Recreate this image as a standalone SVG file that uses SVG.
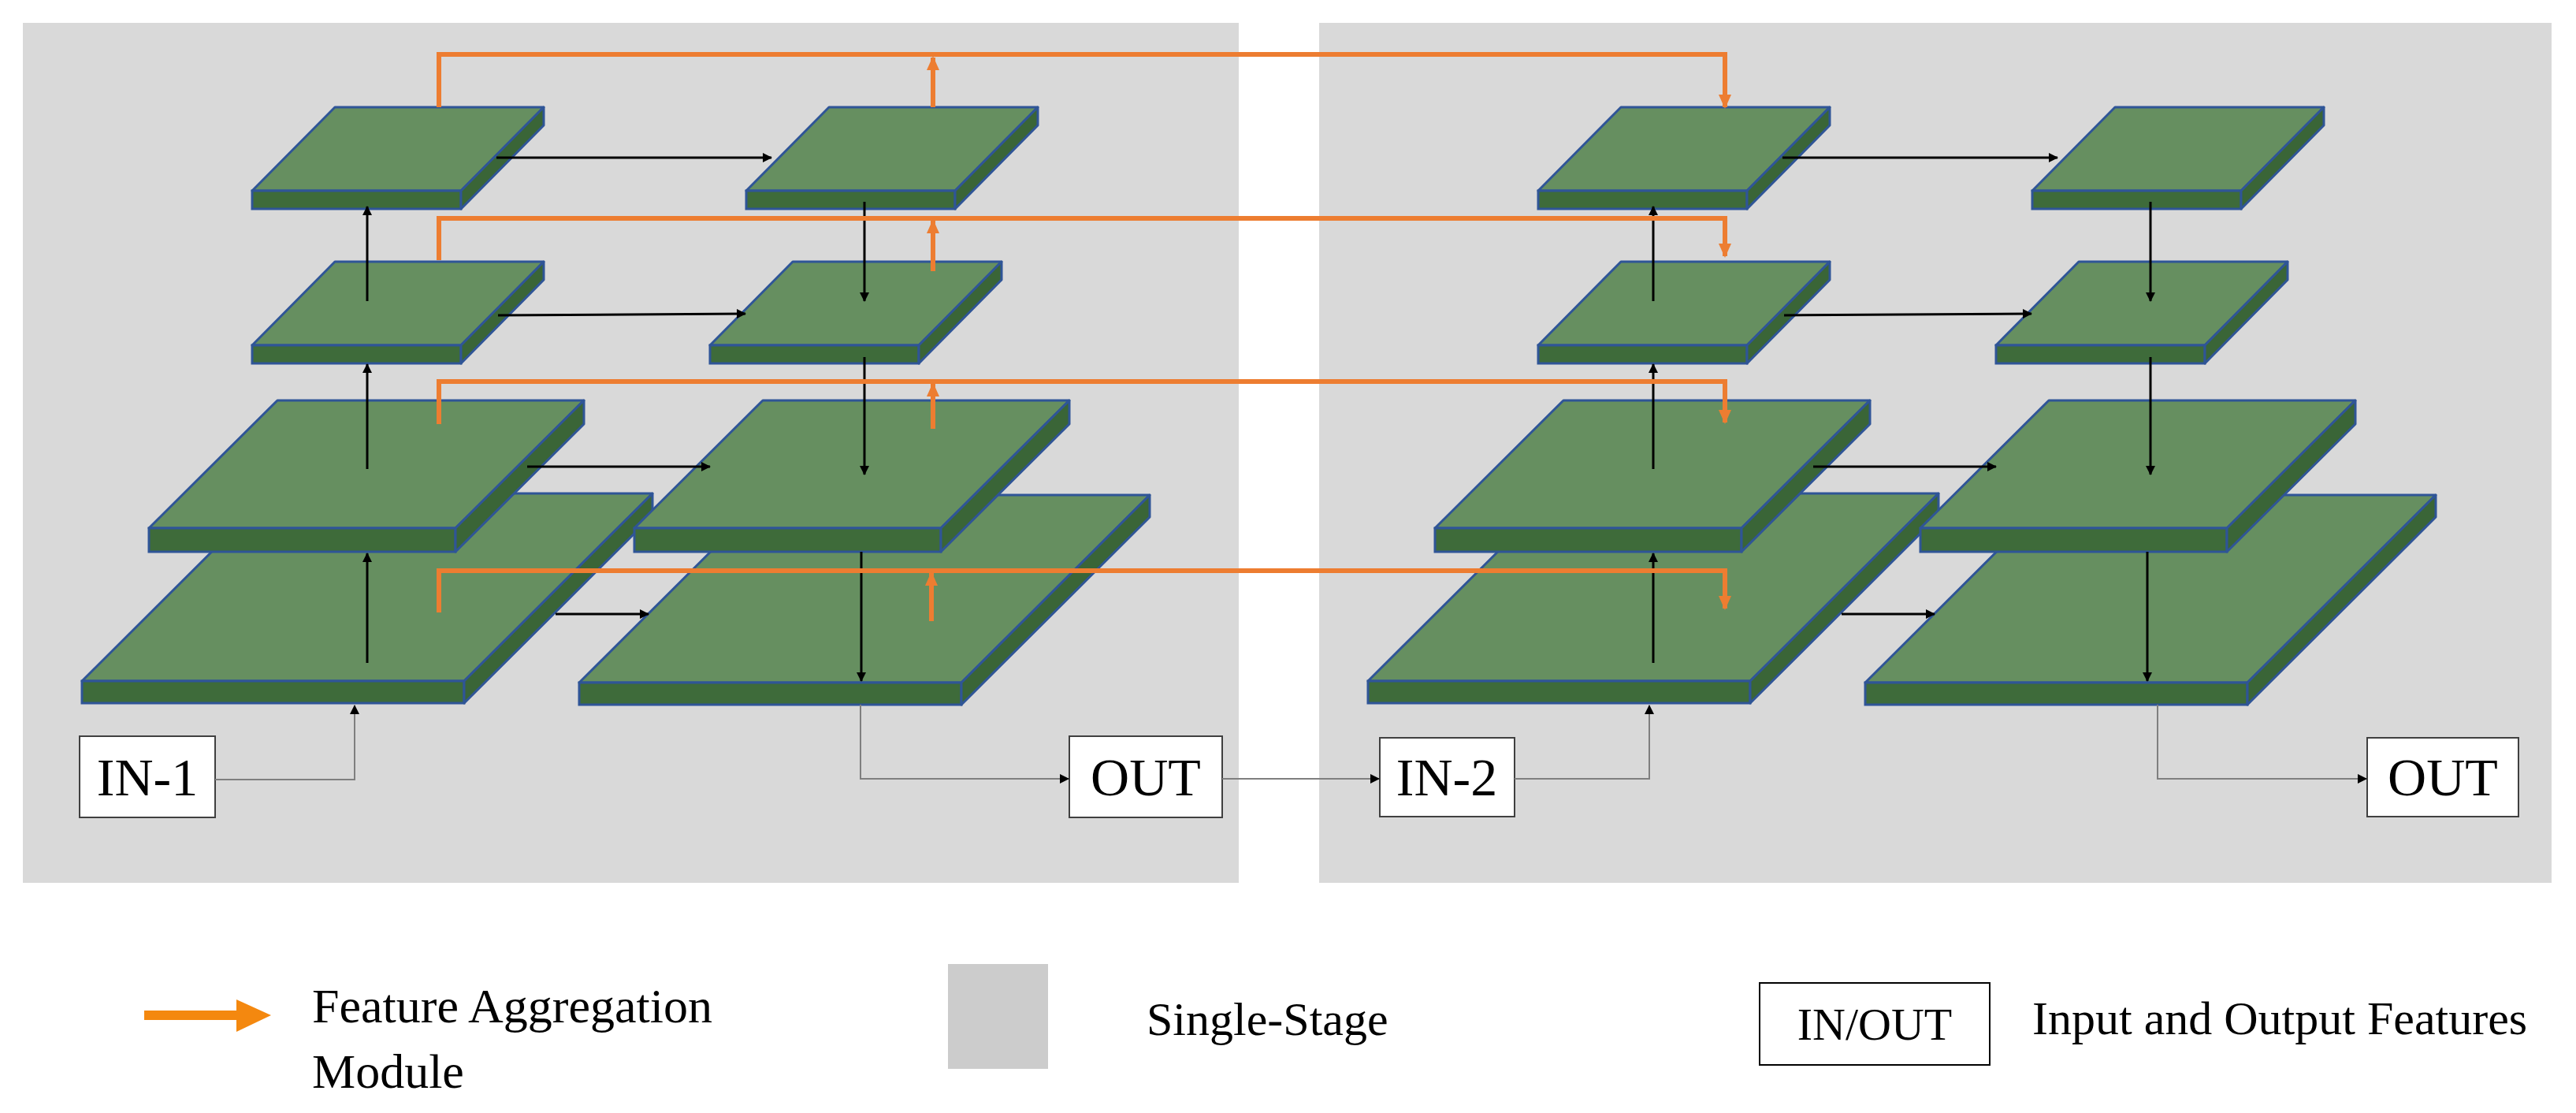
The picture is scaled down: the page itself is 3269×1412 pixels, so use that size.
<svg xmlns="http://www.w3.org/2000/svg" xmlns:xlink="http://www.w3.org/1999/xlink" width="3269" height="1412" viewBox="0 0 3269 1412">
<style>
.panel{fill:#d9d9d9}
.top{fill:#668f60;stroke:#2f5597;stroke-width:3;stroke-linejoin:round}
.front{fill:#3e6b3a;stroke:#2f5597;stroke-width:3}
.side{fill:#3a6537;stroke:#2f5597;stroke-width:3;stroke-linejoin:round}
.blk{stroke:#000;stroke-width:3;fill:none;marker-end:url(#ab)}
.gry{stroke:#7f7f7f;stroke-width:2;fill:none;marker-end:url(#ab)}
.orga{stroke:#ed7d31;stroke-width:6;fill:none;marker-end:url(#ao)}
.box{fill:#fff;stroke:#404040;stroke-width:2}
.t{font-family:"Liberation Serif",serif;fill:#000}
</style>
<defs>
<marker id="ab" markerWidth="12" markerHeight="12" refX="11" refY="6" orient="auto" markerUnits="userSpaceOnUse"><path d="M0,0L12,6L0,12z" fill="#000"/></marker>
<marker id="ao" markerWidth="18" markerHeight="18" refX="16" refY="9" orient="auto" markerUnits="userSpaceOnUse"><path d="M0,1L18,9L0,17z" fill="#ed7d31"/></marker>
<g id="plateS"><polygon class="top" points="105,0 370,0 265,106 0,106"/><rect class="front" x="0" y="106" width="265" height="23"/><polygon class="side" points="370,0 370,23 265,129 265,106"/></g>
<g id="plateM"><polygon class="top" points="163,0 552,0 389,162 0,162"/><rect class="front" x="0" y="162" width="389" height="30"/><polygon class="side" points="552,0 552,30 389,192 389,162"/></g>
<g id="plateL"><polygon class="top" points="239,0 724,0 485,238 0,238"/><rect class="front" x="0" y="238" width="485" height="28"/><polygon class="side" points="724,0 724,28 485,266 485,238"/></g>
</defs>
<rect class="panel" x="29" y="29" width="1543" height="1091"/>
<rect class="panel" x="1674" y="29" width="1564" height="1091"/>
<g id="stage1">
<g id="p4"><use xlink:href="#plateL" x="104" y="626"/></g>
<g id="q4"><use xlink:href="#plateL" x="735" y="628"/></g>
<g id="p3"><use xlink:href="#plateM" x="189" y="508"/></g>
<g id="q3"><use xlink:href="#plateM" x="805" y="508"/></g>
<g id="p2"><use xlink:href="#plateS" x="320" y="332"/></g>
<g id="q2"><use xlink:href="#plateS" x="901" y="332"/></g>
<g id="p1"><use xlink:href="#plateS" x="320" y="136"/></g>
<g id="q1"><use xlink:href="#plateS" x="947" y="136"/></g>
</g>
<g id="stage2" transform="translate(1632,0)">
<g id="r4"><use xlink:href="#plateL" x="104" y="626"/></g>
<g id="s4"><use xlink:href="#plateL" x="735" y="628"/></g>
<g id="r3"><use xlink:href="#plateM" x="189" y="508"/></g>
<g id="s3"><use xlink:href="#plateM" x="805" y="508"/></g>
<g id="r2"><use xlink:href="#plateS" x="320" y="332"/></g>
<g id="s2"><use xlink:href="#plateS" x="901" y="332"/></g>
<g id="r1"><use xlink:href="#plateS" x="320" y="136"/></g>
<g id="s1"><use xlink:href="#plateS" x="947" y="136"/></g>
</g>
<g id="in1"><rect class="box" x="101" y="934" width="172" height="103"/><text class="t" x="187" y="1009" font-size="68" text-anchor="middle">IN-1</text></g>
<g id="out1"><rect class="box" x="1357" y="934" width="194" height="103"/><text class="t" x="1454" y="1009" font-size="68" text-anchor="middle">OUT</text></g>
<g id="in2"><rect class="box" x="1751" y="936" width="171" height="100"/><text class="t" x="1836" y="1009" font-size="68" text-anchor="middle">IN-2</text></g>
<g id="out2"><rect class="box" x="3004" y="936" width="192" height="100"/><text class="t" x="3100" y="1009" font-size="68" text-anchor="middle">OUT</text></g>
<g id="connectors">
<g id="c1">
<path class="blk" d="M466,841V702"/><path class="blk" d="M466,595V462"/><path class="blk" d="M466,382V262"/>
<path class="blk" d="M1097,256V382"/><path class="blk" d="M1097,453V602"/><path class="blk" d="M1093,700V864"/>
<path class="blk" d="M630,200H979"/><path class="blk" d="M632,400L946,398"/><path class="blk" d="M669,592H901"/><path class="blk" d="M705,779H823"/>
</g>
<g id="c2" transform="translate(1632,0)">
<path class="blk" d="M466,841V702"/><path class="blk" d="M466,595V462"/><path class="blk" d="M466,382V262"/>
<path class="blk" d="M1097,256V382"/><path class="blk" d="M1097,453V602"/><path class="blk" d="M1093,700V864"/>
<path class="blk" d="M630,200H979"/><path class="blk" d="M632,400L946,398"/><path class="blk" d="M669,592H901"/><path class="blk" d="M705,779H823"/>
</g>
<path class="gry" d="M273,989H450V895"/>
<path class="gry" d="M1092,894V988H1356"/>
<path class="gry" d="M1551,988H1750"/>
<path class="gry" d="M1922,988H2093V895"/>
<path class="gry" d="M2738,894V988H3003"/>
<g id="fam">
<path class="orga" d="M557,136V69H2189V136"/>
<path class="orga" d="M557,330V277H2189V325"/>
<path class="orga" d="M557,538V484H2189V536"/>
<path class="orga" d="M557,777V724H2189V772"/>
<path class="orga" d="M1184,136V73"/>
<path class="orga" d="M1184,344V280"/>
<path class="orga" d="M1184,544V487"/>
<path class="orga" d="M1182,788V727"/>
</g>
</g>
<g id="legend">
<rect x="183" y="1282" width="120" height="12" fill="#f4880f"/>
<polygon points="300,1268 344,1288 300,1309" fill="#f4880f"/>
<text class="t" x="396" y="1297" font-size="62">Feature Aggregation</text>
<text class="t" x="396" y="1380" font-size="62">Module</text>
<rect x="1203" y="1223" width="127" height="133" fill="#cccccc"/>
<text class="t" x="1455" y="1313" font-size="60">Single-Stage</text>
<rect x="2233" y="1247" width="292" height="104" fill="#fff" stroke="#000" stroke-width="2"/>
<text class="t" x="2379" y="1319" font-size="58" text-anchor="middle">IN/OUT</text>
<text class="t" x="2579" y="1312" font-size="60">Input and Output Features</text>
</g>
</svg>
